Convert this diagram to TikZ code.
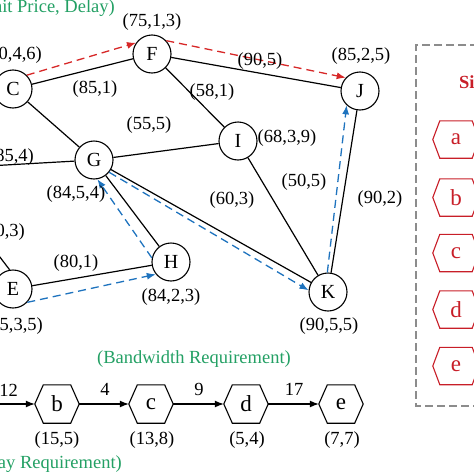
\documentclass[tikz,border=0pt]{standalone}
\usepackage{fontspec}
\setmainfont{Liberation Serif}
\usetikzlibrary{arrows.meta}
\definecolor{grn}{RGB}{35,160,100}
\definecolor{dred}{RGB}{215,40,40}
\definecolor{dblue}{RGB}{30,115,190}
\definecolor{hred}{RGB}{200,30,40}
\definecolor{boxgray}{RGB}{140,140,140}
\begin{document}
\begin{tikzpicture}[x=1pt,y=-1pt,
  font=\fontsize{18.5}{20}\selectfont,
  vtx/.style={circle,draw,line width=1.1pt,minimum size=38pt,inner sep=0pt,font=\fontsize{20}{22}\selectfont},
  lbl/.style={inner sep=0pt},
  edge/.style={line width=1.2pt},
  tip/.style={-{Latex[length=9pt,width=7pt]}},
  redarr/.style={dred,line width=1.3pt,dash pattern=on 8pt off 5pt,tip},
  bluearr/.style={dblue,line width=1.3pt,dash pattern=on 8pt off 5pt,tip},
  hexn/.style={minimum width=44pt,minimum height=38pt,inner sep=0pt,font=\fontsize{23}{25}\selectfont},
  rhexn/.style={minimum width=46pt,minimum height=37pt,inner sep=0pt,text=hred,font=\fontsize{23}{25}\selectfont},
  grntext/.style={inner sep=0pt,text=grn}]
\useasboundingbox (0,0) rectangle (474,474);
% network nodes
\node[vtx] (C) at (13,89) {C};
\node[vtx] (F) at (152,54) {F};
\node[vtx] (J) at (360,91) {J};
\node[vtx] (I) at (238,141) {I};
\node[vtx] (G) at (94,160) {G};
\node[vtx] (H) at (171,262) {H};
\node[vtx] (E) at (13,289) {E};
\node[vtx] (K) at (328,292) {K};
\coordinate (Dout) at (-20,231);
\coordinate (Bout) at (-30,167);
% solid edges
\draw[edge] (C) -- (F);
\draw[edge] (C) -- (G);
\draw[edge] (F) -- (I);
\draw[edge] (F) -- (J);
\draw[edge] (G) -- (I);
\draw[edge] (G) -- (K);
\draw[edge] (G) -- (H);
\draw[edge] (I) -- (K);
\draw[edge] (J) -- (K);
\draw[edge] (Bout) -- (G);
\draw[edge] (E) -- (H);
\draw[edge] (Dout) -- (E.100);
% dashed paths
\draw[redarr] (C.45) -- (F.145);
\draw[redarr] (F.43) -- (J.137);
\draw[bluearr] (E.-43) -- (H.219);
\draw[bluearr] (H.168) -- (G.280);
\draw[bluearr] (G.-39) -- (K.175);
\draw[bluearr] (K.92) -- (J.227);
% labels
\node[grntext,anchor=east] (t1) at (115,8) {nit Price, Delay)};
\node[lbl] (l1) at (152,22) {(75,1,3)};
\node[lbl,anchor=east] (l2) at (42,55) {0,4,6)};
\node[lbl] (l3) at (95,89) {(85,1)};
\node[lbl] (l4) at (212,92) {(58,1)};
\node[lbl] (l5) at (260,61) {(90,5)};
\node[lbl] (l6) at (361,56) {(85,2,5)};
\node[lbl] (l7) at (149,125) {(55,5)};
\node[lbl] (l8) at (287,138) {(68,3,9)};
\node[lbl,anchor=east] (l9) at (34,157) {85,4)};
\node[lbl] (l10) at (76,194) {(84,5,4)};
\node[lbl] (l11) at (232,200) {(60,3)};
\node[lbl] (l12) at (304,182) {(50,5)};
\node[lbl] (l13) at (380,199) {(90,2)};
\node[lbl,anchor=east] (l14) at (25,232) {0,3)};
\node[lbl] (l15) at (76,263) {(80,1)};
\node[lbl] (l16) at (171,297) {(84,2,3)};
\node[lbl,anchor=east] (l17) at (43,326) {5,3,5)};
\node[lbl] (l18) at (329,326) {(90,5,5)};
% chain
\node[grntext] (t2) at (194,359) {(Bandwidth Requirement)};
\node[hexn] (b) at (57,404) {b};
\node[hexn] (c) at (151,404) {c};
\node[hexn] (d) at (246,404) {d};
\node[hexn] (e) at (341,404) {e};
\foreach \n in {b,c,d,e}{
  \draw[line width=1.1pt] (\n.west) -- ([xshift=8.5pt]\n.north west) -- ([xshift=-8.5pt]\n.north east) -- (\n.east) -- ([xshift=-8.5pt]\n.south east) -- ([xshift=8.5pt]\n.south west) -- cycle;
}
\coordinate (Aout) at (-10,404);
\draw[edge,tip] (Aout) -- (b.west);
\draw[edge,tip] (b.east) -- (c.west);
\draw[edge,tip] (c.east) -- (d.west);
\draw[edge,tip] (d.east) -- (e.west);
\node[lbl,anchor=east] (w1) at (18,390) {12};
\node[lbl] (w2) at (105,389) {4};
\node[lbl] (w3) at (199,389) {9};
\node[lbl] (w4) at (294,389) {17};
\node[lbl] (r1) at (57,440) {(15,5)};
\node[lbl] (r2) at (152,440) {(13,8)};
\node[lbl] (r3) at (247,440) {(5,4)};
\node[lbl] (r4) at (342,440) {(7,7)};
\node[grntext,anchor=east] (t3) at (122,464) {ay Requirement)};
% right panel
\draw[boxgray,line width=1.2pt,dash pattern=on 8pt off 4pt] (490,45) -- (416,45) -- (416,406) -- (490,406);
\node[lbl,anchor=west,text=hred,font=\fontsize{18.5}{20}\selectfont\bfseries] (si) at (459,82) {Si};
\foreach \n/\yy in {a/139.5,b/197.5,c/253,d/309.5,e/366}{
  \node[rhexn] (s\n) at (456,\yy) {\n};
  \draw[hred,line width=1.1pt] (s\n.west) -- ([xshift=7pt]s\n.north west) -- ([xshift=-7pt]s\n.north east) -- (s\n.east) -- ([xshift=-7pt]s\n.south east) -- ([xshift=7pt]s\n.south west) -- cycle;
}
\end{tikzpicture}
\end{document}
